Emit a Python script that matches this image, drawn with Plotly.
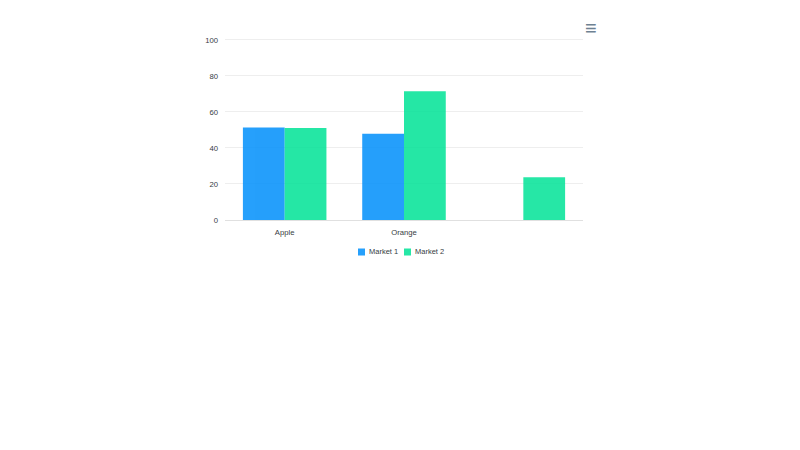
import plotly.graph_objects as go

categories = ["Apple", "Orange", ""]
market_1 = [51.3, 47.8, None]
market_2 = [51.0, 71.4, 23.7]
y_ticks = [0, 20, 40, 60, 80, 100]

series_names = ["Market 1", "Market 2"]
series_colors = ["#008FFB", "#00E396"]
x_pos = list(range(len(categories)))

fig = go.Figure()
for name, values, color in zip(series_names, [market_1, market_2], series_colors):
    fig.add_trace(go.Bar(x=x_pos, y=values, name=name,
                         marker=dict(color=color, line=dict(width=0)), opacity=0.85))

fig.update_layout(
    width=800, height=450,
    margin=dict(l=217, r=225, t=30, b=238),
    paper_bgcolor="white", plot_bgcolor="white",
    font=dict(family="Liberation Sans, Arial, sans-serif", color="#373d3f", size=8),
    barmode="group", bargap=0.3, bargroupgap=0,
    showlegend=False,
    xaxis=dict(
        tickmode="array", tickvals=x_pos, ticktext=categories,
        range=[-0.5, len(categories) - 0.5],
        showgrid=False, showline=True, linecolor="#e0e0e0", linewidth=1,
        ticks="", tickfont=dict(size=7.7, color="#373d3f"), zeroline=False,
        ticklabelstandoff=5,
    ),
    yaxis=dict(
        range=[0, 101], tickvals=y_ticks, showgrid=True, gridcolor="#eeeeee",
        zeroline=False, showline=False, ticks="",
        tickfont=dict(size=7.7, color="#373d3f"), ticklabelstandoff=6,
    ),
)

# legend below the plot: small square swatch + label, centred
swatch_x = [0.3715, 0.5000]
label_x = [0.3994, 0.5279]
for name, color, sx, lx in zip(series_names, series_colors, swatch_x, label_x):
    fig.add_shape(type="rect", xref="paper", yref="paper",
                  x0=sx, x1=sx + 0.0196, y0=-0.1951, y1=-0.1566,
                  fillcolor=color, opacity=0.85, line=dict(width=0))
    fig.add_annotation(text=name, xref="paper", yref="paper", x=lx, y=-0.1758,
                       xanchor="left", yanchor="middle", showarrow=False,
                       borderpad=0, font=dict(size=7.5, color="#373d3f"))

# toolbar menu icon
fig.add_annotation(text="≡", xref="paper", yref="paper", x=1.046, y=1.126,
                   showarrow=False, font=dict(size=20, color="#6e8192"))

fig.write_html("out.html")
